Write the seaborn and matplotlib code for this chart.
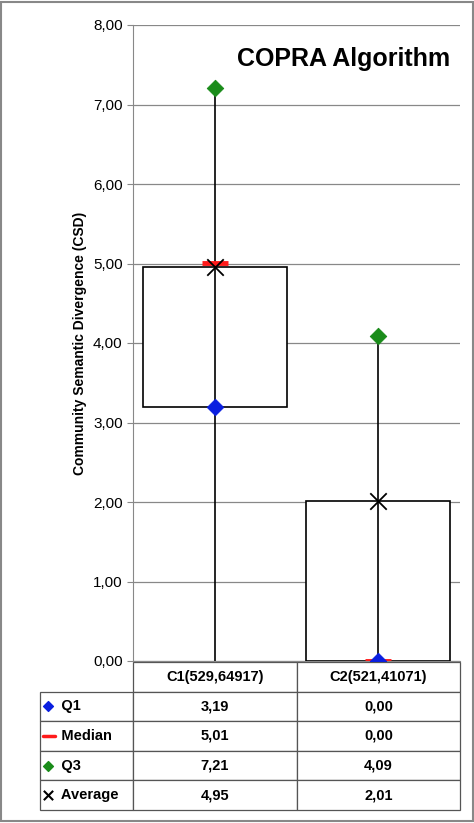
import numpy as np
import pandas as pd
import matplotlib
matplotlib.use("Agg")
import matplotlib.pyplot as plt
import seaborn as sns

categories = ["C1(529,64917)", "C2(521,41071)"]
q1 = [3.19, 0.00]
median = [5.01, 0.00]
q3 = [7.21, 4.09]
average = [4.95, 2.01]
series_names = ["Q1", "Median", "Q3", "Average"]

sns.set_style("white")
plt.rcParams['font.family'] = ['Liberation Sans', 'DejaVu Sans']

fig = plt.figure(figsize=(4.74, 8.23), dpi=100)
ax = fig.add_axes([133 / 474, 1 - 661 / 823, 327 / 474, 636 / 823])
ax.set_zorder(5)
ax.patch.set_alpha(0)

x = np.arange(len(categories))
# whiskers from 0 to Q3
ax.vlines(x, 0, q3, color="black", lw=1.2, zorder=2)
# boxes between Q1 and average
lo = np.minimum(q1, average)
hi = np.maximum(q1, average)
ax.bar(x, hi - lo, bottom=lo, width=0.88, facecolor="white", edgecolor="black", lw=1.2, zorder=3)
ax.vlines(x, lo, hi, color="black", lw=1.2, zorder=4)

df = pd.DataFrame({"x": x, "Q1": q1, "Median": median, "Q3": q3, "Average": average})
sns.scatterplot(data=df, x="x", y="Q1", marker="D", color="#0a1fe0", s=70, ax=ax, zorder=6, edgecolor="#0a1fe0")
sns.scatterplot(data=df, x="x", y="Q3", marker="D", color="#1a8c1a", s=70, ax=ax, zorder=6, edgecolor="#1a8c1a")
ax.hlines(median, x - 0.08, x + 0.08, color="#ff1a1a", lw=3.5, zorder=5)
sns.scatterplot(data=df, x="x", y="Average", marker="x", color="black", s=140, ax=ax, zorder=7, linewidth=1.3)

ax.set_xlim(-0.5, 1.5)
ax.set_ylim(0, 8)
ax.set_yticks(np.arange(0, 9, 1))
ax.set_yticklabels([f"{v:.2f}".replace(".", ",") for v in range(9)], fontsize=11, color="black")
ax.yaxis.grid(True, color="#888888", lw=0.9)
ax.set_axisbelow(True)
ax.set_xticks([])
ax.set_xlabel("")
ax.set_ylabel("Community Semantic Divergence (CSD)", fontsize=10, fontweight="bold", color="black")
for s in ["top", "right"]:
    ax.spines[s].set_visible(False)
ax.spines["left"].set_color("#888888")
ax.spines["bottom"].set_color("#888888")
ax.tick_params(axis="y", left=True, length=4, color="#888888")
ax.text(0.97, 0.965, "COPRA Algorithm", transform=ax.transAxes, ha="right", va="top",
        fontsize=18, fontweight="bold", color="black")

# data table
rows = [q1, median, q3, average]
cell_text = [["   " + n] + [f"{v:.2f}".replace(".", ",") for v in r] for n, r in zip(series_names, rows)]
tab_ax = fig.add_axes([40 / 474, 1 - 810 / 823, 420 / 474, 148 / 823])
tab_ax.axis("off")
tab = tab_ax.table(cellText=[[""] + categories] + cell_text, bbox=[0, 0, 1, 1],
                   colWidths=[93, 164, 163], cellLoc="center")
tab.auto_set_font_size(False)
for (r, c), cell in tab.get_celld().items():
    cell.set_edgecolor("#555555")
    cell.set_linewidth(0.9)
    cell.get_text().set_fontsize(10.5)
    cell.get_text().set_fontweight("bold")
    cell.get_text().set_color("black")
    if c == 0:
        cell.get_text().set_ha("left")
        cell._loc = "left"
    if r == 0 and c == 0:
        cell.set_edgecolor("none")
        cell.set_facecolor("none")

key_y = [1 - (i + 1.5) / 5 for i in range(4)]
tab_ax.scatter([0.018], [key_y[0]], marker="D", color="#0a1fe0", s=25, transform=tab_ax.transAxes, zorder=10, clip_on=False)
tab_ax.plot([0.008, 0.035], [key_y[1]] * 2, color="#ff1a1a", lw=2.5, transform=tab_ax.transAxes, zorder=10)
tab_ax.scatter([0.018], [key_y[2]], marker="D", color="#1a8c1a", s=25, transform=tab_ax.transAxes, zorder=10, clip_on=False)
tab_ax.scatter([0.02], [key_y[3]], marker="x", color="black", s=45, transform=tab_ax.transAxes, zorder=10, clip_on=False)

border = plt.Rectangle((0.002, 0.002), 0.996, 0.996, transform=fig.transFigure, fill=False,
                       edgecolor="#888888", lw=1.5)
fig.patches.append(border)
fig.savefig("out.png", dpi=100)
